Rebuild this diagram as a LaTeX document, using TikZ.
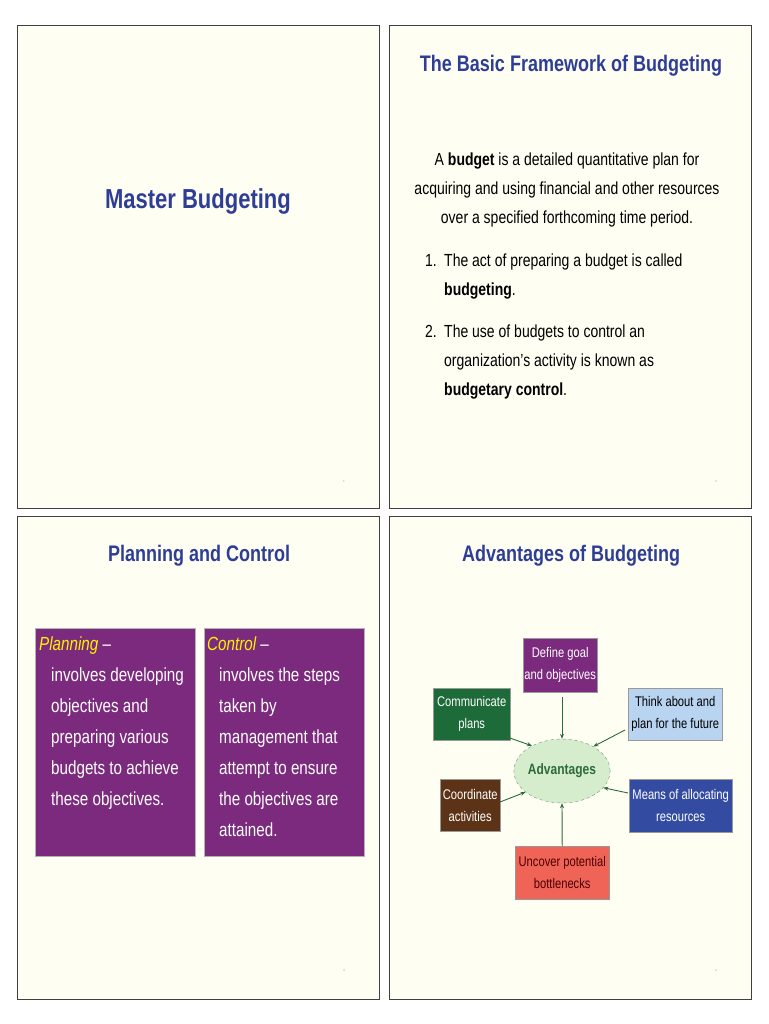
\documentclass[tikz,border=0pt]{standalone}
\usepackage{fontspec}
\setmainfont{Liberation Sans}[FakeStretch=0.8]
\usetikzlibrary{shapes.geometric,arrows.meta}
\definecolor{slidebg}{HTML}{FFFEF2}
\definecolor{ttl}{HTML}{2E3E96}
\definecolor{purp}{HTML}{7B2A7D}
\definecolor{dgreen}{HTML}{1E6B3A}
\definecolor{lblue}{HTML}{B8D4F0}
\definecolor{brn}{HTML}{5C3317}
\definecolor{mblue}{HTML}{334BA0}
\definecolor{salm}{HTML}{F06458}
\definecolor{egreen}{HTML}{D5EDCC}
\definecolor{arr}{HTML}{2E6B3A}
\tikzset{
 slide/.style={draw=black!75,line width=0.9pt,fill=slidebg},
 ttlt/.style={text=ttl,font=\fontsize{22.5}{26}\selectfont\bfseries},
 body/.style={font=\fontsize{17.5}{29}\selectfont,align=left,anchor=north west,inner sep=0},
 pbox/.style={fill=purp,draw=black!30,minimum width=160pt,minimum height=228pt,anchor=north west},
 btxt/.style={font=\fontsize{19}{31}\selectfont,text=white,align=left,anchor=north west,inner sep=0},
 abox/.style={draw=black!40,font=\fontsize{14}{22}\selectfont,align=center,anchor=north west,inner sep=0},
 ar/.style={draw=arr,line width=0.9pt,-{Stealth[length=5pt,width=4pt]}},
 pnum/.style={font=\fontsize{3}{3}\selectfont,text=black!50},
}
\begin{document}
\begin{tikzpicture}[x=1pt,y=-1pt]
\useasboundingbox (0,0) rectangle (768,1024);
\fill[white] (0,0) rectangle (768,1024);
\draw[slide] (17,25) rectangle (379,508);
\draw[slide] (389,25) rectangle (751,508);
\draw[slide] (17,516) rectangle (379,999);
\draw[slide] (389,516) rectangle (751,999);
\node[pnum] (p1) at (344,481) {1};
\node[pnum] (p2) at (716,481) {2};
\node[pnum] (p3) at (344,970) {3};
\node[pnum] (p4) at (716,970) {4};
% slide 1
\node[ttlt,font=\fontsize{27.5}{30}\selectfont\bfseries] (t1) at (198,201) {Master Budgeting};
% slide 2
\node[ttlt] (t2) at (571,66) {The Basic Framework of Budgeting};
\node[font=\fontsize{17.5}{29}\selectfont,align=center] (def) at (567,190) {A \textbf{budget} is a detailed quantitative plan for\\acquiring and using financial and other resources\\over a specified forthcoming time period.};
\node[body] (n1) at (425,254) {1.};
\node[body] (l1) at (444,254) {The act of preparing a budget is called\\\textbf{budgeting}.};
\node[body] (n2) at (425,325) {2.};
\node[body] (l2) at (444,325) {The use of budgets to control an\\organization’s activity is known as\\\textbf{budgetary control}.};
% slide 3
\node[ttlt] (t3) at (199,556) {Planning and Control};
\node[pbox] (b1) at (35,628) {};
\node[pbox] (b2) at (204,628) {};
\node[btxt] at (39,637) {\textcolor{yellow}{\itshape Planning} –\\\hspace*{12pt}involves developing\\\hspace*{12pt}objectives and\\\hspace*{12pt}preparing various\\\hspace*{12pt}budgets to achieve\\\hspace*{12pt}these objectives.};
\node[btxt] at (207,637) {\textcolor{yellow}{\itshape Control} –\\\hspace*{12pt}involves the steps\\\hspace*{12pt}taken by\\\hspace*{12pt}management that\\\hspace*{12pt}attempt to ensure\\\hspace*{12pt}the objectives are\\\hspace*{12pt}attained.};
% slide 4
\node[ttlt] (t4) at (571,556) {Advantages of Budgeting};
\node[ellipse,inner sep=0pt,draw=arr!70,dashed,fill=egreen,minimum width=94pt,minimum height=64pt,text=arr,font=\fontsize{15}{17}\selectfont\bfseries] (adv) at (562,771) {Advantages};
\node[abox,fill=purp,text=white,minimum width=74pt,minimum height=54pt] (a1) at (523,638) {Define goal\\and objectives};
\node[abox,fill=dgreen,text=white,minimum width=77pt,minimum height=52pt] (a2) at (433,688) {Communicate\\plans};
\node[abox,fill=lblue,text=black,minimum width=94pt,minimum height=52pt] (a3) at (628,688) {Think about and\\plan for the future};
\node[abox,fill=brn,text=white,minimum width=60pt,minimum height=52pt] (a4) at (440,779) {Coordinate\\activities};
\node[abox,fill=mblue,text=white,minimum width=103pt,minimum height=53pt] (a5) at (629,779) {Means of allocating\\resources};
\node[abox,fill=salm,text=black!70!red,minimum width=94pt,minimum height=53pt] (a6) at (515,846) {Uncover potential\\bottlenecks};
\coordinate (c1) at (562,697);
\coordinate (c2) at (507,737);
\coordinate (c3) at (625,730);
\coordinate (c4) at (500,802);
\coordinate (c5) at (628,793);
\draw[ar] (c1) -- (adv.north);
\draw[ar] (c2) -- (adv.140);
\draw[ar] (c3) -- (adv.38);
\draw[ar] (c4) -- (adv.210);
\draw[ar] (c5) -- (adv.-22);
\draw[ar] (a6.north) -- (adv.south);
\end{tikzpicture}
\end{document}
